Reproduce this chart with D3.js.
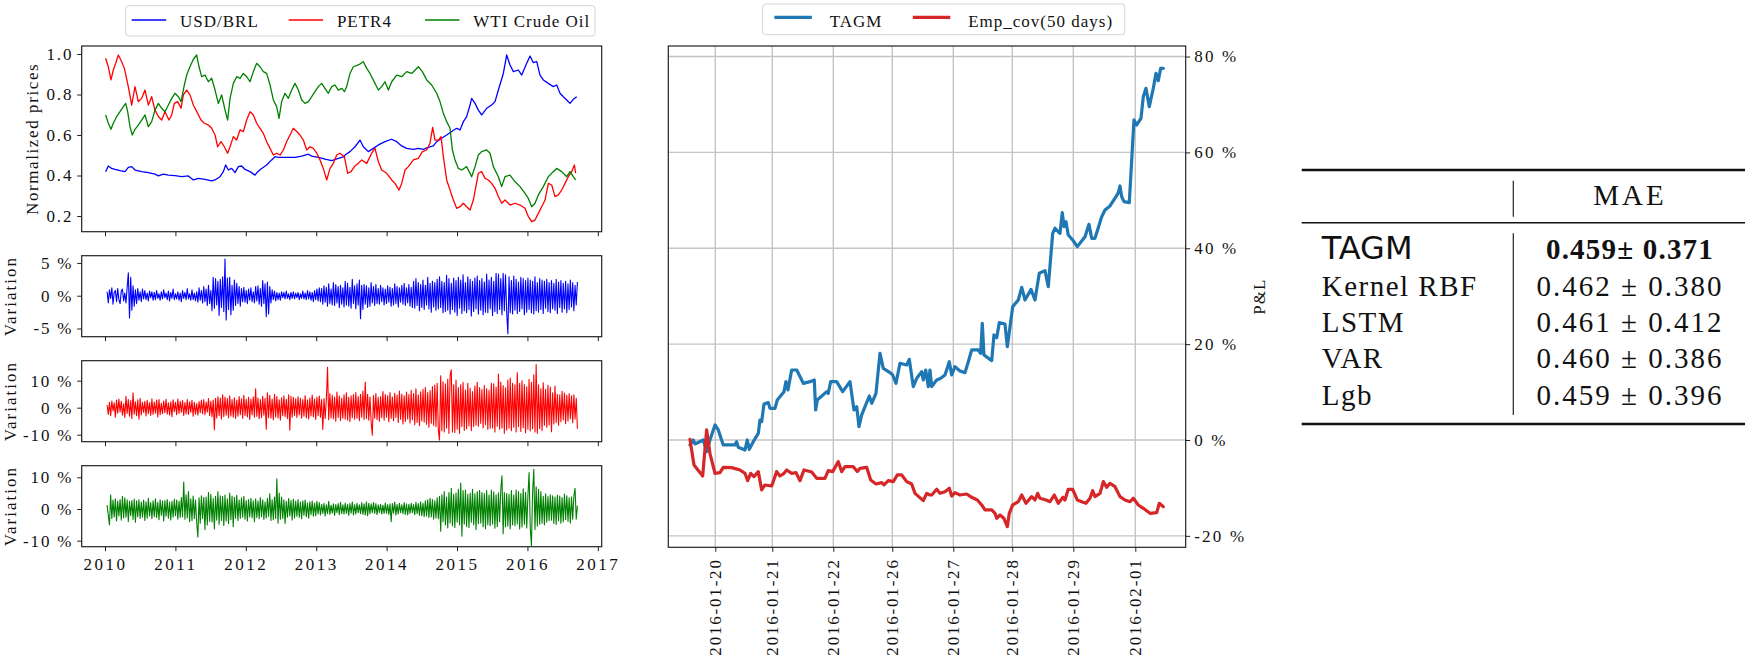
<!DOCTYPE html>
<html><head><meta charset="utf-8">
<script src="https://cdn.jsdelivr.net/npm/d3@7"></script>
<style>
body{margin:0;background:#fff;}
svg text{font-family:"Liberation Serif","Times New Roman",serif;fill:#111;}
</style></head><body>
<svg id="c" width="1755" height="662"></svg>
<script>
// ---------------- DATA ----------------
// Left: normalized prices [year, value]
const usdbrl = [[2010.009,0.419],[2010.047,0.447],[2010.095,0.435],[2010.142,0.430],[2010.213,0.424],[2010.284,0.419],[2010.331,0.440],[2010.379,0.444],[2010.426,0.427],[2010.521,0.419],[2010.616,0.414],[2010.710,0.407],[2010.758,0.398],[2010.829,0.407],[2010.900,0.402],[2010.994,0.399],[2011.089,0.394],[2011.184,0.398],[2011.255,0.378],[2011.326,0.386],[2011.420,0.381],[2011.515,0.374],[2011.563,0.378],[2011.634,0.394],[2011.681,0.419],[2011.714,0.452],[2011.752,0.427],[2011.799,0.435],[2011.847,0.414],[2011.894,0.444],[2011.941,0.447],[2011.989,0.430],[2012.060,0.419],[2012.131,0.402],[2012.169,0.419],[2012.225,0.435],[2012.296,0.452],[2012.367,0.477],[2012.415,0.493],[2012.462,0.490],[2012.557,0.490],[2012.699,0.490],[2012.794,0.496],[2012.888,0.505],[2012.936,0.496],[2013.030,0.490],[2013.125,0.481],[2013.220,0.473],[2013.314,0.485],[2013.400,0.493],[2013.409,0.501],[2013.480,0.518],[2013.551,0.542],[2013.622,0.575],[2013.669,0.542],[2013.740,0.518],[2013.812,0.534],[2013.883,0.551],[2013.977,0.567],[2014.072,0.579],[2014.143,0.567],[2014.214,0.546],[2014.285,0.534],[2014.380,0.529],[2014.451,0.534],[2014.522,0.529],[2014.593,0.539],[2014.664,0.546],[2014.711,0.567],[2014.782,0.584],[2014.853,0.600],[2014.924,0.617],[2014.995,0.633],[2015.043,0.625],[2015.090,0.666],[2015.137,0.691],[2015.185,0.748],[2015.208,0.781],[2015.256,0.756],[2015.303,0.723],[2015.350,0.699],[2015.421,0.732],[2015.492,0.748],[2015.540,0.765],[2015.587,0.822],[2015.658,0.904],[2015.705,0.995],[2015.753,0.946],[2015.800,0.913],[2015.871,0.921],[2015.919,0.896],[2015.990,0.954],[2016.037,0.990],[2016.084,0.957],[2016.132,0.962],[2016.179,0.896],[2016.226,0.872],[2016.297,0.855],[2016.368,0.839],[2016.416,0.847],[2016.463,0.806],[2016.510,0.789],[2016.558,0.773],[2016.605,0.756],[2016.652,0.776],[2016.700,0.789]];
const petr4 = [[2010.009,0.979],[2010.047,0.937],[2010.085,0.872],[2010.118,0.921],[2010.152,0.954],[2010.189,0.995],[2010.237,0.962],[2010.275,0.929],[2010.331,0.839],[2010.379,0.748],[2010.426,0.839],[2010.473,0.765],[2010.521,0.781],[2010.568,0.822],[2010.616,0.748],[2010.663,0.789],[2010.710,0.723],[2010.758,0.691],[2010.805,0.674],[2010.852,0.715],[2010.909,0.674],[2010.947,0.699],[2010.985,0.756],[2011.032,0.765],[2011.080,0.732],[2011.113,0.798],[2011.160,0.822],[2011.207,0.798],[2011.255,0.748],[2011.316,0.707],[2011.364,0.674],[2011.411,0.658],[2011.468,0.649],[2011.515,0.633],[2011.563,0.600],[2011.600,0.542],[2011.648,0.567],[2011.695,0.542],[2011.742,0.510],[2011.776,0.542],[2011.823,0.592],[2011.870,0.575],[2011.918,0.625],[2011.965,0.617],[2012.012,0.674],[2012.060,0.715],[2012.107,0.699],[2012.154,0.658],[2012.202,0.633],[2012.249,0.608],[2012.296,0.567],[2012.344,0.534],[2012.391,0.501],[2012.438,0.510],[2012.486,0.501],[2012.533,0.526],[2012.580,0.567],[2012.628,0.600],[2012.675,0.633],[2012.723,0.617],[2012.770,0.600],[2012.817,0.575],[2012.865,0.526],[2012.912,0.542],[2012.959,0.534],[2013.007,0.510],[2013.054,0.477],[2013.101,0.435],[2013.149,0.378],[2013.196,0.435],[2013.243,0.460],[2013.291,0.501],[2013.338,0.510],[2013.400,0.493],[2013.447,0.411],[2013.494,0.419],[2013.542,0.444],[2013.598,0.460],[2013.646,0.477],[2013.717,0.460],[2013.788,0.510],[2013.835,0.534],[2013.883,0.468],[2013.930,0.427],[2014.001,0.411],[2014.072,0.378],[2014.119,0.361],[2014.176,0.328],[2014.214,0.361],[2014.261,0.427],[2014.309,0.444],[2014.380,0.477],[2014.451,0.485],[2014.508,0.518],[2014.569,0.526],[2014.616,0.559],[2014.654,0.638],[2014.687,0.575],[2014.735,0.575],[2014.773,0.592],[2014.806,0.493],[2014.853,0.378],[2014.901,0.328],[2014.948,0.279],[2014.995,0.238],[2015.043,0.246],[2015.090,0.263],[2015.137,0.246],[2015.185,0.230],[2015.232,0.279],[2015.303,0.411],[2015.350,0.419],[2015.398,0.386],[2015.445,0.378],[2015.492,0.361],[2015.540,0.337],[2015.587,0.296],[2015.634,0.263],[2015.682,0.279],[2015.753,0.254],[2015.824,0.263],[2015.895,0.254],[2015.966,0.238],[2016.013,0.197],[2016.061,0.172],[2016.108,0.180],[2016.155,0.213],[2016.203,0.246],[2016.250,0.279],[2016.297,0.361],[2016.345,0.353],[2016.392,0.296],[2016.439,0.304],[2016.487,0.328],[2016.534,0.361],[2016.581,0.394],[2016.629,0.419],[2016.667,0.452],[2016.685,0.411]];
const wti = [[2010.009,0.699],[2010.047,0.658],[2010.085,0.628],[2010.118,0.658],[2010.166,0.691],[2010.213,0.715],[2010.260,0.740],[2010.294,0.756],[2010.322,0.715],[2010.355,0.641],[2010.388,0.600],[2010.426,0.628],[2010.473,0.649],[2010.521,0.674],[2010.568,0.699],[2010.616,0.641],[2010.663,0.666],[2010.710,0.723],[2010.758,0.756],[2010.805,0.732],[2010.852,0.715],[2010.900,0.748],[2010.947,0.781],[2010.994,0.806],[2011.042,0.789],[2011.080,0.765],[2011.127,0.847],[2011.160,0.896],[2011.207,0.937],[2011.255,0.974],[2011.302,0.995],[2011.335,0.937],[2011.373,0.888],[2011.420,0.896],[2011.468,0.863],[2011.515,0.880],[2011.563,0.822],[2011.610,0.756],[2011.657,0.798],[2011.705,0.723],[2011.742,0.674],[2011.776,0.781],[2011.823,0.855],[2011.870,0.888],[2011.918,0.880],[2011.965,0.904],[2012.012,0.888],[2012.060,0.863],[2012.107,0.913],[2012.154,0.954],[2012.202,0.937],[2012.249,0.913],[2012.296,0.904],[2012.344,0.847],[2012.391,0.773],[2012.438,0.740],[2012.472,0.682],[2012.509,0.765],[2012.557,0.806],[2012.604,0.781],[2012.652,0.822],[2012.699,0.855],[2012.746,0.822],[2012.794,0.773],[2012.841,0.756],[2012.888,0.765],[2012.936,0.789],[2012.983,0.814],[2013.030,0.839],[2013.078,0.855],[2013.125,0.830],[2013.172,0.806],[2013.220,0.839],[2013.267,0.847],[2013.314,0.822],[2013.362,0.830],[2013.400,0.814],[2013.433,0.839],[2013.480,0.904],[2013.527,0.937],[2013.598,0.946],[2013.669,0.962],[2013.717,0.929],[2013.764,0.904],[2013.835,0.855],[2013.883,0.822],[2013.930,0.839],[2013.977,0.863],[2014.025,0.822],[2014.072,0.863],[2014.143,0.896],[2014.214,0.888],[2014.285,0.913],[2014.356,0.904],[2014.451,0.937],[2014.508,0.913],[2014.569,0.872],[2014.640,0.847],[2014.711,0.806],[2014.758,0.765],[2014.806,0.707],[2014.853,0.666],[2014.901,0.633],[2014.934,0.526],[2014.972,0.477],[2015.019,0.435],[2015.066,0.427],[2015.137,0.444],[2015.208,0.394],[2015.256,0.444],[2015.303,0.501],[2015.350,0.518],[2015.421,0.526],[2015.469,0.510],[2015.516,0.444],[2015.587,0.394],[2015.634,0.345],[2015.682,0.394],[2015.753,0.402],[2015.824,0.369],[2015.895,0.345],[2015.966,0.312],[2016.013,0.287],[2016.061,0.246],[2016.108,0.263],[2016.155,0.304],[2016.226,0.345],[2016.297,0.394],[2016.368,0.419],[2016.416,0.435],[2016.487,0.419],[2016.558,0.394],[2016.605,0.419],[2016.652,0.394],[2016.685,0.378]];

// Left: daily variations (%), evenly spaced in time from varStart to varEnd
const varStart = 2010.03, varEnd = 2016.71;
const usdbrlVar = [0.6,-1.1,0.9,-0.4,1.2,-1.3,0.5,0.8,-0.9,1.1,-0.6,-1.2,0.7,1.0,-0.8,0.4,-1.1,1.3,3.5,-3.4,
2.8,-2.2,1.5,-1.6,0.9,-1.2,1.1,-0.7,0.6,-0.9,1.0,-0.5,0.8,-0.6,0.4,-0.8,0.7,-0.3,0.6,-0.7,
0.5,-0.6,0.8,-0.4,0.3,-0.7,0.6,-0.5,0.9,-0.3,0.4,-0.6,0.7,-0.8,0.5,-0.4,1.0,-0.6,0.3,-0.5,
0.6,-0.7,0.4,-0.9,0.8,-0.4,0.5,-0.6,1.1,-0.5,0.3,-0.7,0.9,-0.6,0.4,-0.8,0.6,-1.0,1.2,-0.7,
0.8,-1.1,1.4,-0.9,1.0,-1.5,1.6,-1.2,0.8,-2.3,2.8,-1.9,2.6,-1.4,2.2,-3.0,2.5,-1.8,2.9,-2.4,
5.6,-3.7,2.7,-2.1,2.8,-2.9,1.6,-2.2,2.4,-1.5,1.9,-1.2,1.4,-1.6,1.1,-0.9,1.3,-1.0,0.8,-1.2,
1.0,-0.7,1.2,-0.9,0.6,-1.1,1.4,-0.8,1.5,-1.3,1.1,-1.6,2.3,-1.2,1.8,-3.2,2.1,-2.8,1.4,-1.1,
0.9,-0.6,0.7,-0.8,0.5,-0.6,0.4,-0.7,0.6,-0.3,0.5,-0.5,0.7,-0.4,0.3,-0.6,0.5,-0.4,0.6,-0.5,
0.4,-0.3,0.5,-0.6,0.3,-0.4,0.7,-0.5,0.4,-0.6,0.8,-0.5,0.6,-0.7,0.5,-0.9,0.8,-0.6,1.0,-0.8,
1.2,-0.9,1.1,-1.3,1.5,-1.0,1.3,-1.6,1.8,-1.2,1.0,-1.4,2.0,-1.5,1.7,-1.1,1.4,-1.8,1.6,-1.3,
1.2,-1.7,2.2,-1.4,1.9,-1.6,1.3,-1.9,2.5,-1.2,1.5,-2.0,1.8,-1.4,2.4,-3.5,1.6,-2.1,1.7,-1.3,
1.5,-1.8,1.2,-1.6,2.0,-1.1,1.4,-1.5,1.7,-1.2,1.1,-1.3,1.6,-0.9,1.2,-1.4,1.0,-1.2,1.5,-1.0,
1.3,-1.6,1.1,-1.4,1.8,-1.2,1.4,-1.7,1.2,-1.0,1.6,-1.3,1.9,-1.5,1.2,-1.1,1.7,-1.6,1.3,-1.8,
2.2,-1.9,2.6,-1.5,2.0,-2.3,1.7,-1.8,2.4,-2.1,1.6,-1.4,2.8,-2.0,1.9,-2.5,2.2,-1.7,2.0,-2.2,
2.5,-2.0,2.9,-1.8,2.2,-2.6,2.0,-2.4,3.1,-2.2,2.6,-2.8,1.9,-2.1,2.7,-2.5,2.3,-3.0,2.8,-1.9,
2.4,-2.7,3.2,-2.3,2.0,-2.6,2.9,-2.1,2.5,-3.1,2.2,-2.4,2.7,-2.0,3.0,-2.8,2.3,-2.2,2.6,-2.9,
2.1,-2.5,3.3,-2.6,2.4,-2.0,2.8,-3.0,2.2,-2.4,3.4,-2.7,3.3,-2.1,2.6,-2.9,3.4,-2.3,3.2,-2.5,
-5.8,2.9,-2.6,2.3,-2.8,3.0,-2.2,2.5,-2.7,2.1,-2.4,2.8,-2.0,2.6,-2.9,2.3,-2.5,2.7,-2.1,2.4,
-2.6,2.2,-2.8,2.9,-2.3,2.0,-2.5,2.6,-2.1,2.4,-2.7,2.2,-1.9,2.5,-2.4,2.0,-2.6,2.3,-2.0,1.9,
-2.2,2.5,-2.7,2.1,-1.8,2.3,-2.5,1.9,-2.0,2.2,-2.6,1.8,-2.1,2.4,-1.7,2.0,-2.3,1.6,-1.4,2.1];
const petr4Var = [1.0,-2.5,2.0,-3.0,2.5,-1.2,1.8,-3.5,2.8,-2.0,3.2,-1.6,2.4,-2.8,1.4,-3.6,4.2,-2.1,3.0,-3.2,
2.6,-4.0,5.5,-2.4,2.2,-3.0,2.9,-4.3,3.5,-2.7,2.0,-1.8,2.4,-3.1,2.7,-2.2,1.9,-2.9,3.3,-2.5,
2.1,-2.0,2.8,-3.4,3.0,-2.6,1.6,-2.2,2.5,-1.9,3.1,-2.4,1.8,-2.7,2.2,-3.3,2.9,-1.5,2.0,-2.6,
3.2,-2.1,2.4,-1.7,2.6,-2.9,1.9,-2.3,3.0,-2.5,2.2,-1.8,2.7,-3.2,2.0,-2.4,1.5,-2.8,2.3,-1.9,
2.8,-2.2,3.0,-2.6,2.1,-1.7,3.4,-2.9,2.4,-3.3,2.8,-8.2,3.5,-3.8,4.0,-3.0,3.6,-4.2,4.8,-3.3,
3.9,-2.8,3.4,-3.7,4.4,-3.1,3.0,-3.5,3.7,-4.0,2.8,-3.2,4.1,-2.6,3.3,-3.9,4.6,-2.9,3.1,-3.4,
3.8,-4.4,3.2,-2.7,4.0,-3.5,7.0,-3.2,3.6,-4.1,3.0,-3.6,4.2,-2.8,3.5,-8.0,5.5,-3.6,4.6,-3.9,
3.2,-4.5,5.0,-3.4,4.1,-3.8,2.9,-4.6,3.7,-3.0,4.4,-3.3,3.1,-4.0,4.8,-8.3,4.2,-3.5,3.8,-2.9,
3.3,-3.6,4.0,-2.7,3.5,-3.9,3.0,-3.2,4.5,-3.8,2.9,-4.2,3.6,-3.1,4.7,-3.4,3.2,-4.4,3.9,-3.0,
4.3,-3.5,3.0,-8.1,3.4,-4.0,3.0,15.0,-4.5,5.2,-3.8,4.6,-4.1,3.9,-5.0,5.8,-3.6,4.3,-4.7,3.5,
-3.9,4.8,-4.2,5.5,-4.6,3.8,-5.1,4.4,-3.7,4.9,-4.3,5.6,-3.9,4.1,-4.8,5.0,-3.5,6.2,-4.4,9.5,
-4.0,5.0,-4.6,3.9,-5.3,-10.2,4.5,-3.9,5.2,-4.4,3.8,-5.0,4.1,-3.7,6.0,-4.6,4.9,-3.5,4.4,-5.2,
5.6,-4.0,3.9,-4.8,5.3,-3.6,4.7,-5.5,6.2,-4.3,5.0,-6.0,4.4,-5.1,5.8,-4.2,4.9,-5.7,6.4,-4.5,
5.2,-6.3,7.0,-5.5,4.8,-6.6,5.9,-4.9,6.8,-5.4,7.5,-6.1,5.6,-7.2,6.3,-5.8,7.8,-6.5,8.4,-7.0,
9.0,-8.2,-12.0,11.8,-8.5,9.6,-9.0,8.8,-7.5,10.5,-9.5,12.0,14.0,-9.0,8.5,-9.2,10.2,-8.0,7.5,-9.5,
8.5,-7.0,9.3,-8.4,6.5,-7.8,9.0,-6.8,7.2,-8.5,6.0,-7.0,8.0,-6.5,9.4,-6.9,7.5,-5.8,6.7,-7.4,
8.2,-6.2,7.0,-8.0,6.4,-7.6,9.0,-7.5,8.8,-9.0,7.6,-6.9,12.5,-8.0,9.5,-7.5,8.2,-9.5,7.4,-8.3,
10.2,-7.6,11.0,-8.5,9.0,-7.2,8.5,-9.0,13.0,-7.0,9.0,-8.8,10.0,-7.4,8.6,-9.3,7.7,-8.0,10.5,-8.6,
9.4,-7.8,12.2,-9.0,16.0,-9.5,8.5,-7.8,7.0,-8.5,9.2,-6.5,6.8,-7.2,8.3,-6.4,7.6,-8.9,5.5,-6.0,
8.0,-5.5,5.0,-6.5,4.8,-5.2,6.1,-4.5,5.4,-5.9,4.6,-4.9,5.2,-4.1,4.4,-5.6,4.8,-4.2,3.5,-7.8];
const wtiVar = [1.2,-2.0,-5.0,4.5,-3.0,2.8,-2.5,3.2,-3.8,2.5,-2.2,3.0,-3.5,4.0,-2.8,3.5,-2.6,2.9,-3.9,2.4,
-2.1,2.7,-3.3,3.1,-4.2,2.6,-2.4,2.9,-3.0,2.2,-2.6,2.8,-3.6,2.3,-2.9,3.4,-2.2,2.0,-3.1,2.6,
-2.4,3.2,-2.7,2.1,-3.4,2.9,-2.0,2.5,-3.8,2.7,-2.3,3.0,-2.9,2.2,-3.5,2.4,-2.6,3.1,-2.1,2.8,
-3.2,2.5,-2.7,3.6,-2.4,8.5,-3.2,4.5,-2.8,5.5,-4.0,3.2,-3.6,4.1,-3.0,2.8,-4.4,-8.8,3.5,-4.5,
4.2,-3.0,3.7,-6.5,3.8,-5.0,5.2,-3.9,4.6,-4.1,3.3,-6.3,4.0,-3.5,5.5,-4.8,4.2,-3.6,3.9,-5.2,
4.4,-3.8,3.2,-4.6,5.0,-3.4,4.1,-5.6,3.7,-2.9,4.3,-3.6,2.8,-3.0,3.5,-2.6,4.0,-3.2,2.7,-3.8,
3.0,-2.5,3.4,-2.8,2.6,-4.0,3.2,-2.7,2.5,-3.1,3.6,-2.4,2.9,-3.3,2.2,-2.8,3.4,-2.3,4.8,-3.6,
2.9,-3.4,3.8,-3.0,9.5,-4.5,5.0,-3.2,3.8,-3.0,2.9,-4.6,2.4,-2.6,3.3,-2.2,2.7,-3.5,3.1,-2.8,
2.5,-2.3,3.0,-2.7,2.2,-3.1,2.6,-2.0,2.8,-2.4,1.9,-2.9,2.3,-1.8,2.5,-2.3,1.9,-2.1,2.4,-1.6,
2.0,-1.9,1.5,-1.4,1.8,-2.2,1.3,-1.5,2.4,-1.7,1.2,-1.3,1.6,-2.0,1.4,-1.2,1.7,-1.8,2.1,-1.5,
1.3,-1.6,1.9,-1.4,1.5,-2.0,1.7,-1.3,2.2,-1.9,1.4,-1.6,1.8,-1.2,1.3,-1.5,2.0,-1.7,1.6,-1.9,
2.3,-2.1,1.8,-1.5,1.6,-1.2,2.0,-1.4,1.7,-1.8,1.3,-1.1,1.5,-1.6,1.2,-1.4,1.9,-1.3,1.4,-1.7,
1.6,-4.0,1.7,-1.3,2.2,-1.9,1.4,-1.6,1.8,-1.2,1.3,-1.5,2.0,-1.7,1.6,-1.9,1.5,-1.4,1.8,-1.2,
1.4,-1.8,2.1,-1.5,1.7,-2.0,2.3,-2.1,1.8,-2.4,2.6,-2.2,2.9,-2.7,3.4,-2.5,3.0,-3.2,2.6,-2.8,
3.5,-3.1,4.0,-7.0,4.5,-4.0,5.5,-5.0,3.8,-6.0,5.2,-4.4,6.5,-5.3,4.6,-5.8,5.0,-4.2,6.2,-5.0,
8.2,-8.6,5.8,-4.8,6.0,-5.5,4.6,-5.8,5.0,-4.2,6.2,-5.0,4.8,-6.5,5.5,-4.6,5.9,-4.4,5.2,-5.6,
4.9,-6.2,5.8,-5.0,4.4,-5.3,6.0,-4.7,5.4,-6.1,4.5,-5.5,5.1,-4.0,6.3,10.5,-7.8,5.2,-5.6,4.9,
-5.4,4.6,-6.2,5.8,-5.0,4.4,-5.3,6.0,-4.7,5.5,-6.3,4.9,-5.7,6.4,-4.8,5.3,-6.0,4.2,11.5,-6.0,
-11.5,5.2,12.5,-6.5,7.0,-5.4,6.2,-4.8,5.5,-4.5,4.0,-5.0,4.8,-4.2,3.9,-3.6,4.5,-3.5,4.2,-4.6,
3.8,-4.9,4.4,-3.7,4.1,-4.5,3.6,-4.0,4.7,-3.3,4.2,-3.9,3.5,-4.4,3.8,-3.2,4.1,6.5,-3.2,1.0];

const yearTicks = [2010,2011,2012,2013,2014,2015,2016,2017];
const priceTicks = [0.2,0.4,0.6,0.8,1.0];
const legendLeft = ["USD/BRL","PETR4","WTI Crude Oil"];

// Middle: P&L (%), x = trading-day position
const tagm = [[-0.422,-1.04],[-0.367,0],[-0.338,-0.83],[-0.2,0],[-0.144,-2.43],[-0.089,0],[-0.005,3.13],[0.05,2.09],[0.133,-1.04],[0.328,-1.04],[0.356,-0.35],[0.383,-1.53],[0.495,-2.09],[0.533,0],[0.567,-1.95],[0.633,-0.35],[0.717,1.39],[0.745,4.17],[0.773,3.83],[0.812,7.51],[0.883,7.79],[0.912,6.6],[0.995,6.6],[1.033,8.35],[1.145,10.08],[1.178,12.17],[1.212,10.43],[1.273,14.6],[1.357,14.6],[1.467,11.82],[1.578,12.17],[1.65,12.52],[1.673,6.26],[1.7,8.35],[1.857,10.08],[1.883,9.74],[1.923,12.17],[2.023,12.17],[2.123,10.08],[2.245,12.17],[2.312,6.26],[2.357,6.95],[2.395,2.78],[2.44,5.22],[2.567,9.18],[2.607,7.65],[2.678,9.74],[2.745,18.08],[2.8,14.95],[2.912,14.05],[2.957,13.56],[3.012,11.82],[3.078,16.0],[3.19,15.65],[3.233,16.83],[3.3,11.13],[3.357,12.87],[3.44,14.25],[3.467,12.52],[3.507,14.6],[3.55,11.13],[3.578,14.6],[3.607,11.13],[3.69,12.52],[3.757,12.87],[3.828,13.56],[3.9,16.34],[3.94,13.56],[3.995,15.3],[4.078,14.4],[4.162,14.05],[4.217,16.34],[4.273,18.78],[4.383,18.78],[4.423,18.08],[4.45,24.34],[4.478,17.73],[4.607,16.55],[4.645,21.91],[4.69,21.35],[4.733,24.48],[4.828,24.2],[4.867,19.47],[4.957,27.82],[5.05,29.21],[5.107,31.85],[5.162,29.21],[5.262,31.43],[5.328,29.21],[5.4,34.78],[5.495,35.33],[5.55,31.99],[5.623,43.12],[5.662,44.17],[5.745,43.12],[5.783,47.43],[5.812,44.51],[5.845,45.55],[5.883,42.77],[5.957,41.73],[6.033,40.34],[6.162,42.42],[6.228,45.0],[6.273,42.08],[6.328,42.08],[6.44,46.59],[6.495,47.99],[6.578,48.82],[6.678,50.76],[6.717,51.6],[6.745,53.0],[6.773,50.76],[6.812,49.72],[6.9,49.51],[6.978,66.77],[7.023,65.72],[7.095,67.12],[7.133,71.63],[7.178,73.38],[7.233,69.54],[7.3,73.38],[7.345,76.51],[7.383,74.96],[7.423,77.55],[7.467,77.55]];
const empCov = [[-0.422,0.14],[-0.355,-5.22],[-0.21,-7.51],[-0.144,2.09],[-0.089,-2.78],[-0.005,-6.95],[0.078,-6.81],[0.133,-5.7],[0.273,-5.77],[0.412,-6.26],[0.495,-6.95],[0.54,-8.49],[0.59,-6.95],[0.645,-7.65],[0.717,-6.6],[0.773,-10.43],[0.828,-9.39],[0.94,-9.6],[1.023,-6.6],[1.078,-7.51],[1.145,-6.95],[1.19,-6.26],[1.273,-6.95],[1.345,-6.81],[1.412,-8.49],[1.478,-6.26],[1.607,-6.68],[1.69,-7.99],[1.828,-7.99],[1.883,-6.4],[1.957,-6.6],[2.05,-4.52],[2.107,-6.6],[2.162,-5.56],[2.3,-5.56],[2.367,-6.6],[2.412,-5.91],[2.523,-5.7],[2.59,-8.35],[2.678,-9.18],[2.773,-8.9],[2.812,-9.39],[2.883,-8.49],[2.967,-8.69],[3.033,-7.3],[3.107,-7.3],[3.19,-8.69],[3.273,-9.18],[3.328,-11.13],[3.467,-12.66],[3.523,-11.13],[3.578,-11.48],[3.607,-11.48],[3.69,-10.29],[3.745,-11.13],[3.828,-10.78],[3.9,-10.08],[3.94,-11.69],[3.995,-10.99],[4.078,-11.48],[4.19,-11.27],[4.273,-11.96],[4.367,-12.52],[4.44,-13.56],[4.495,-14.6],[4.607,-14.6],[4.662,-15.3],[4.69,-16.34],[4.745,-15.65],[4.81,-16.34],[4.867,-18.08],[4.9,-15.3],[4.957,-13.56],[5.05,-12.87],[5.107,-11.48],[5.178,-13.21],[5.273,-11.82],[5.328,-12.52],[5.373,-11.13],[5.412,-12.17],[5.512,-12.52],[5.578,-12.87],[5.65,-11.48],[5.717,-13.21],[5.795,-11.96],[5.828,-12.52],[5.883,-10.29],[5.957,-10.29],[6.033,-12.52],[6.107,-12.87],[6.178,-13.21],[6.245,-12.17],[6.29,-10.57],[6.328,-11.82],[6.412,-11.13],[6.467,-8.69],[6.523,-9.87],[6.578,-9.04],[6.662,-9.74],[6.745,-11.82],[6.828,-12.52],[6.912,-12.87],[6.967,-12.17],[7.05,-13.56],[7.133,-14.26],[7.245,-15.3],[7.357,-15.16],[7.4,-13.21],[7.467,-13.91]];
const dayTickPos = [0,0.95,1.967,2.95,3.967,4.95,5.967,7.0];
const dayTickLabels = ["2016-01-20","2016-01-21","2016-01-22","2016-01-26","2016-01-27","2016-01-28","2016-01-29","2016-02-01"];
const pnlTicks = [-20,0,20,40,60,80];
const legendMid = ["TAGM","Emp_cov(50 days)"];

// Right: table
const tableModels = ["TAGM","Kernel RBF","LSTM","VAR","Lgb"];
const tableMAE = ["0.459± 0.371","0.462 ± 0.380","0.461 ± 0.412","0.460 ± 0.386","0.459 ± 0.396"];
const tableHeader = "MAE";

// ---------------- DRAW ----------------
const SERIF = "'Liberation Serif','Times New Roman',serif";
const svg = d3.select("#c");
svg.append("rect").attr("width",1755).attr("height",662).attr("fill","#fff");
const defs = svg.append("defs");
let clipId = 0;
function clip(x0,y0,x1,y1){
  const id = "clip"+(clipId++);
  defs.append("clipPath").attr("id",id).append("rect").attr("x",x0).attr("y",y0).attr("width",x1-x0).attr("height",y1-y0);
  return "url(#"+id+")";
}
function styleTicks(g, ls){
  g.select(".domain").remove();
  g.selectAll(".tick line").attr("stroke","#222").attr("stroke-width",1);
  g.selectAll(".tick text").attr("font-size",17).attr("letter-spacing",ls===undefined?"1.8px":ls).attr("fill","#111")
    .style("font-family",SERIF);
}

// ----- Left panels -----
const xL = d3.scaleLinear().domain([2009.669, 2017.055]).range([81.7, 601.7]);
const pct = d => d + " %";
const varPts = vals => vals.map((v,i)=>[varStart + i*(varEnd-varStart)/(vals.length-1), v]);
const panels = [
  {top:46, bottom:231.7, domain:[0.1225,1.0395], ticks:priceTicks, fmt:d=>d.toFixed(1), label:"Normalized prices", labelX:32, ls:"1.6px",
    series:[[usdbrl,"#0000ff"],[petr4,"#ff0000"],[wti,"#008000"]], lw:1.3},
  {top:255.7, bottom:336.7, domain:[-6.25,6.10], ticks:[-5,0,5], fmt:pct, label:"Variation", labelX:10, ls:"2px",
    series:[[varPts(usdbrlVar),"#0000ff"]], lw:1.1},
  {top:360.7, bottom:441.7, domain:[-12.6,17.4], ticks:[-10,0,10], fmt:pct, label:"Variation", labelX:10, ls:"2px",
    series:[[varPts(petr4Var),"#ff0000"]], lw:1.1},
  {top:465.7, bottom:546.7, domain:[-11.9,13.66], ticks:[-10,0,10], fmt:pct, label:"Variation", labelX:10, ls:"2px",
    series:[[varPts(wtiVar),"#008000"]], lw:1.1, xlabels:true}
];
panels.forEach(p=>{
  const y = d3.scaleLinear().domain(p.domain).range([p.bottom,p.top]);
  const cp = clip(81.7,p.top,601.7,p.bottom);
  const line = d3.line().x(d=>xL(d[0])).y(d=>y(d[1]));
  const gl = svg.append("g").attr("clip-path",cp);
  p.series.forEach(([data,col])=>{
    gl.append("path").datum(data).attr("d",line).attr("fill","none").attr("stroke",col)
      .attr("stroke-width",p.lw).attr("stroke-linejoin","round");
  });
  svg.append("rect").attr("x",81.7).attr("y",p.top).attr("width",601.7-81.7).attr("height",p.bottom-p.top)
    .attr("fill","none").attr("stroke","#222").attr("stroke-width",1.2);
  const ga = svg.append("g").attr("transform",`translate(81.7,0)`)
    .call(d3.axisLeft(y).tickValues(p.ticks).tickFormat(p.fmt).tickSize(4.5).tickPadding(4));
  styleTicks(ga);
  const gx = svg.append("g").attr("transform",`translate(0,${p.bottom})`)
    .call(d3.axisBottom(xL).tickValues(yearTicks).tickFormat(p.xlabels?d3.format("d"):"").tickSize(4.5).tickPadding(6.7));
  styleTicks(gx, "2.5px");
  svg.append("text").attr("transform",`translate(${p.labelX},${(p.top+p.bottom)/2}) rotate(-90)`)
    .attr("text-anchor","middle").attr("dy","0.35em").attr("font-size",17).attr("letter-spacing",p.ls)
    .style("font-family",SERIF).text(p.label);
});

// left legend
const legL = svg.append("g");
legL.append("rect").attr("x",125.7).attr("y",5.7).attr("width",595-125.7).attr("height",30.3).attr("rx",3)
  .attr("fill","#fff").attr("stroke","#d4d4d4").attr("stroke-width",1);
const legLx = [131.7, 288.6, 425];
const legLcol = ["#0000ff","#ff0000","#008000"];
legendLeft.forEach((t,i)=>{
  legL.append("line").attr("x1",legLx[i]).attr("x2",legLx[i]+34.5).attr("y1",20).attr("y2",20)
    .attr("stroke",legLcol[i]).attr("stroke-width",1.5);
  legL.append("text").attr("x",legLx[i]+48.3).attr("y",26.7).attr("font-size",17).attr("letter-spacing","1px")
    .style("font-family",SERIF).text(t);
});

// ----- Middle chart -----
const mL=668.3, mR=1185.7, mT=46, mB=547.3;
const xM = d3.scaleLinear().domain([-0.783, 7.84]).range([mL,mR]);
const yM = d3.scaleLinear().domain([-22.39, 82.2]).range([mB,mT]);
const grid = svg.append("g");
pnlTicks.forEach(v=>grid.append("line").attr("x1",mL).attr("x2",mR).attr("y1",yM(v)).attr("y2",yM(v))
  .attr("stroke","#c4c4c4").attr("stroke-width",1.4));
dayTickPos.forEach(v=>grid.append("line").attr("y1",mT).attr("y2",mB).attr("x1",xM(v)).attr("x2",xM(v))
  .attr("stroke","#c4c4c4").attr("stroke-width",1.4));
const cpM = clip(mL,mT,mR,mB);
const lineM = d3.line().x(d=>xM(d[0])).y(d=>yM(d[1]));
const gm = svg.append("g").attr("clip-path",cpM);
gm.append("path").datum(tagm).attr("d",lineM).attr("fill","none").attr("stroke","#1f77b4").attr("stroke-width",3.2).attr("stroke-linejoin","round").attr("stroke-linecap","round");
gm.append("path").datum(empCov).attr("d",lineM).attr("fill","none").attr("stroke","#d62728").attr("stroke-width",3.2).attr("stroke-linejoin","round").attr("stroke-linecap","round");
svg.append("rect").attr("x",mL).attr("y",mT).attr("width",mR-mL).attr("height",mB-mT)
  .attr("fill","none").attr("stroke","#222").attr("stroke-width",1.2);
const gyM = svg.append("g").attr("transform",`translate(${mR},0)`)
  .call(d3.axisRight(yM).tickValues(pnlTicks).tickFormat(pct).tickSize(4.5).tickPadding(4));
styleTicks(gyM, "2.2px");
const gxM = svg.append("g").attr("transform",`translate(0,${mB})`)
  .call(d3.axisBottom(xM).tickValues(dayTickPos).tickFormat("").tickSize(4.5));
styleTicks(gxM);
dayTickPos.forEach((v,i)=>{
  svg.append("text").attr("transform",`translate(${xM(v)},${mB+11}) rotate(-90)`)
    .attr("text-anchor","end").attr("dy","0.35em").attr("font-size",17).attr("letter-spacing","1.8px")
    .style("font-family",SERIF).text(dayTickLabels[i]);
});
svg.append("text").attr("transform",`translate(1259,${(mT+mB)/2}) rotate(-90)`)
  .attr("text-anchor","middle").attr("dy","0.35em").attr("font-size",17).attr("letter-spacing","1px")
  .style("font-family",SERIF).text("P&L");

// middle legend
const legM = svg.append("g");
legM.append("rect").attr("x",762.6).attr("y",4).attr("width",1124.8-762.6).attr("height",30.7).attr("rx",3)
  .attr("fill","#fff").attr("stroke","#d4d4d4").attr("stroke-width",1);
const legMx = [774.4, 912.8];
const legMcol = ["#1f77b4","#d62728"];
legendMid.forEach((t,i)=>{
  legM.append("line").attr("x1",legMx[i]).attr("x2",legMx[i]+37.5).attr("y1",17.3).attr("y2",17.3)
    .attr("stroke",legMcol[i]).attr("stroke-width",3.2);
  legM.append("text").attr("x",legMx[i]+55.4).attr("y",26.7).attr("font-size",17).attr("letter-spacing","1px")
    .style("font-family",SERIF).text(t);
});

// ----- Table -----
const tb = svg.append("g");
const tL=1301.7, tR=1745, sepX=1513.3, valX=1630;
tb.append("line").attr("x1",tL).attr("x2",tR).attr("y1",170).attr("y2",170).attr("stroke","#111").attr("stroke-width",2.6);
tb.append("line").attr("x1",tL).attr("x2",tR).attr("y1",222.7).attr("y2",222.7).attr("stroke","#111").attr("stroke-width",1.6);
tb.append("line").attr("x1",tL).attr("x2",tR).attr("y1",424).attr("y2",424).attr("stroke","#111").attr("stroke-width",2.6);
tb.append("line").attr("x1",sepX).attr("x2",sepX).attr("y1",180.7).attr("y2",216.7).attr("stroke","#222").attr("stroke-width",1.2);
tb.append("line").attr("x1",sepX).attr("x2",sepX).attr("y1",233.3).attr("y2",415).attr("stroke","#222").attr("stroke-width",1.2);
tb.append("text").attr("x",valX).attr("y",205).attr("text-anchor","middle").attr("font-size",29).attr("letter-spacing","3px")
  .style("font-family",SERIF).text(tableHeader);
const rowY = [259,295.7,331.7,368.3,405];
tableModels.forEach((m,i)=>{
  const t = tb.append("text").attr("x",1321.7).attr("y",rowY[i]).text(m);
  if(i===0){ t.style("font-family","'DejaVu Sans',sans-serif").attr("font-size",32); }
  else { t.style("font-family",SERIF).attr("font-size",29).attr("letter-spacing","1.5px"); }
  const v = tb.append("text").attr("x",valX).attr("y",rowY[i]).attr("text-anchor","middle").attr("font-size",29)
    .attr("letter-spacing","2px").style("font-family",SERIF).text(tableMAE[i]);
  if(i===0) v.attr("font-weight","bold").attr("letter-spacing","1.2px");
});
</script>
</body></html>
